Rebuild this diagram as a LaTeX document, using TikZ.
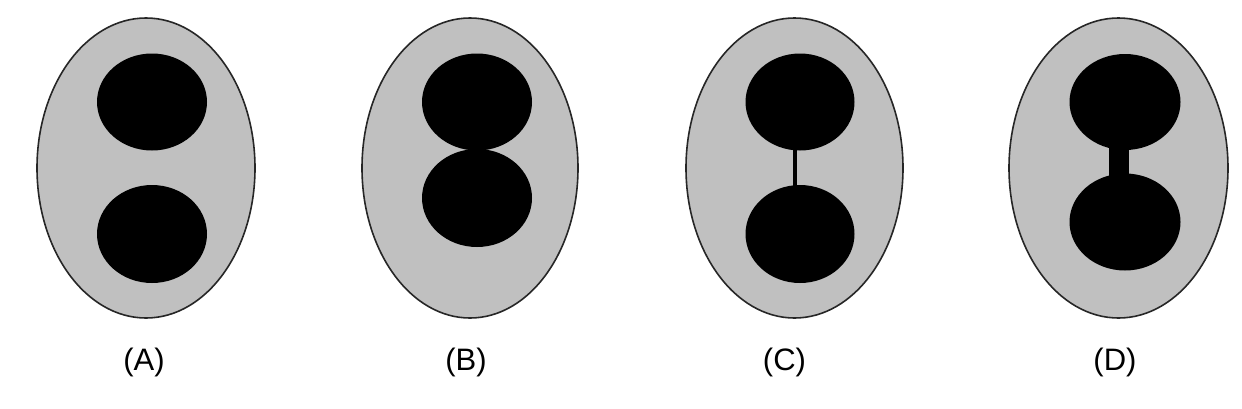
\documentclass[tikz,border=0pt]{standalone}
\usepackage{fontspec}
\setmainfont{Liberation Sans}
\definecolor{cellgray}{RGB}{192,192,192}
\tikzset{
  cell/.style={draw=black!85,fill=cellgray,line width=0.8pt},
  blob/.style={fill=black}
}
\tikzstyle{every node}=[font=\fontsize{15.5}{18}\selectfont]

\begin{document}
\begin{tikzpicture}[x=0.5pt,y=-0.5pt]
    \useasboundingbox (0,0) rectangle (1242,408);
    % (A) two separate nuclei
    \path[cell] (146,168) ellipse [x radius=109, y radius=150];
    \fill[blob] (152,102) ellipse [x radius=55, y radius=48.5];
    \fill[blob] (152,234) ellipse [x radius=55, y radius=49];
    \node (labA) at (144,362) {(A)};
    % (B) touching
    \path[cell] (470,168) ellipse [x radius=108, y radius=150];
    \fill[blob] (477,102) ellipse [x radius=55, y radius=48.5];
    \fill[blob] (477,198) ellipse [x radius=55, y radius=49];
    \node (labB) at (466,362) {(B)};
    % (C) thin bridge
    \path[cell] (794.5,168) ellipse [x radius=108.5, y radius=150];
    \fill[blob] (800,102) ellipse [x radius=54.5, y radius=48.5];
    \fill[blob] (800,234) ellipse [x radius=54.5, y radius=49];
    \fill[blob] (793,146) rectangle (797,190);
    \node (labC) at (784.5,362) {(C)};
    % (D) thick bridge
    \path[cell] (1118.5,168) ellipse [x radius=109.5, y radius=150];
    \fill[blob] (1125,102) ellipse [x radius=55.5, y radius=48];
    \fill[blob] (1125,222) ellipse [x radius=55.5, y radius=48.5];
    \fill[blob] (1109,144) rectangle (1129,180);
    \node (labD) at (1115,362) {(D)};
\end{tikzpicture}
\end{document}
